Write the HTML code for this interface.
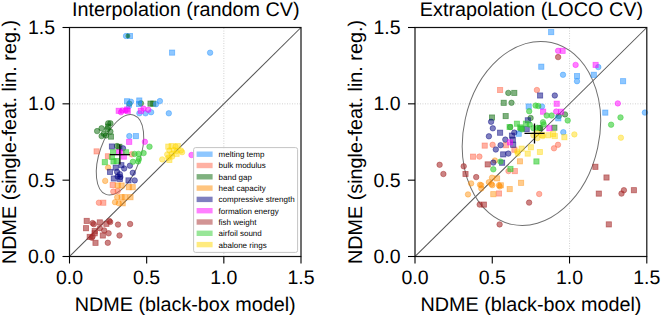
<!DOCTYPE html><html><head><meta charset="utf-8"><style>
html,body{margin:0;padding:0;background:#fff;width:661px;height:316px;overflow:hidden}
svg{display:block}
text{font-family:"Liberation Sans", sans-serif;fill:#000;text-rendering:geometricPrecision}
.t{font-size:19.5px}
.l{font-size:19.8px}
.g{font-size:8px;fill:#000}
</style></head><body><svg width="661" height="316" viewBox="0 0 661 316">
<line x1="223.83333333333334" y1="256.5" x2="223.83333333333334" y2="27.5" stroke="#c0c0c0" stroke-width="0.8" stroke-dasharray="0.9,1.6"/>
<line x1="69.5" y1="103.83333333333334" x2="301.0" y2="103.83333333333334" stroke="#c0c0c0" stroke-width="0.8" stroke-dasharray="0.9,1.6"/>
<line x1="569.5333333333333" y1="256.5" x2="569.5333333333333" y2="27.5" stroke="#c0c0c0" stroke-width="0.8" stroke-dasharray="0.9,1.6"/>
<line x1="415.0" y1="103.83333333333334" x2="646.8" y2="103.83333333333334" stroke="#c0c0c0" stroke-width="0.8" stroke-dasharray="0.9,1.6"/>
<line x1="69.5" y1="256.5" x2="301.0" y2="27.5" stroke="#555" stroke-width="1.05"/>
<line x1="415.0" y1="256.5" x2="646.8" y2="27.5" stroke="#555" stroke-width="1.05"/>
<ellipse cx="120.0" cy="154.8" rx="20.3" ry="42.0" transform="rotate(19.5 120.0 154.8)" fill="none" stroke="#707070" stroke-width="1.0"/>
<ellipse cx="531.45" cy="133.45" rx="67.75" ry="93.05" transform="rotate(12.3 531.45 133.45)" fill="none" stroke="#707070" stroke-width="1.0"/>
<circle cx="129.4" cy="103.7" r="2.75" fill="#006400" fill-opacity="0.5" stroke="#006400" stroke-opacity="0.5" stroke-width="0.8"/>
<circle cx="140.9" cy="103.3" r="2.75" fill="#006400" fill-opacity="0.5" stroke="#006400" stroke-opacity="0.5" stroke-width="0.8"/>
<rect x="147.90" y="101.00" width="5.2" height="5.2" fill="#006400" fill-opacity="0.5" stroke="#006400" stroke-opacity="0.5" stroke-width="0.8"/>
<rect x="150.70" y="101.00" width="5.2" height="5.2" fill="#006400" fill-opacity="0.5" stroke="#006400" stroke-opacity="0.5" stroke-width="0.8"/>
<circle cx="97.1" cy="131.1" r="2.75" fill="#006400" fill-opacity="0.5" stroke="#006400" stroke-opacity="0.5" stroke-width="0.8"/>
<circle cx="101.6" cy="128.3" r="2.75" fill="#006400" fill-opacity="0.5" stroke="#006400" stroke-opacity="0.5" stroke-width="0.8"/>
<circle cx="103.8" cy="133.8" r="2.75" fill="#006400" fill-opacity="0.5" stroke="#006400" stroke-opacity="0.5" stroke-width="0.8"/>
<circle cx="101.6" cy="136.1" r="2.75" fill="#006400" fill-opacity="0.5" stroke="#006400" stroke-opacity="0.5" stroke-width="0.8"/>
<circle cx="107.1" cy="128.9" r="2.75" fill="#006400" fill-opacity="0.5" stroke="#006400" stroke-opacity="0.5" stroke-width="0.8"/>
<circle cx="108.2" cy="123.3" r="2.75" fill="#006400" fill-opacity="0.5" stroke="#006400" stroke-opacity="0.5" stroke-width="0.8"/>
<circle cx="110.4" cy="123.3" r="2.75" fill="#006400" fill-opacity="0.5" stroke="#006400" stroke-opacity="0.5" stroke-width="0.8"/>
<circle cx="110.4" cy="131.6" r="2.75" fill="#006400" fill-opacity="0.5" stroke="#006400" stroke-opacity="0.5" stroke-width="0.8"/>
<rect x="108.40" y="134.00" width="5.2" height="5.2" fill="#006400" fill-opacity="0.5" stroke="#006400" stroke-opacity="0.5" stroke-width="0.8"/>
<circle cx="106.0" cy="135.5" r="2.75" fill="#006400" fill-opacity="0.5" stroke="#006400" stroke-opacity="0.5" stroke-width="0.8"/>
<rect x="105.60" y="124.00" width="5.2" height="5.2" fill="#006400" fill-opacity="0.5" stroke="#006400" stroke-opacity="0.5" stroke-width="0.8"/>
<circle cx="117.0" cy="146.0" r="2.75" fill="#006400" fill-opacity="0.5" stroke="#006400" stroke-opacity="0.5" stroke-width="0.8"/>
<rect x="116.80" y="144.20" width="5.2" height="5.2" fill="#006400" fill-opacity="0.5" stroke="#006400" stroke-opacity="0.5" stroke-width="0.8"/>
<circle cx="126.0" cy="36.0" r="2.75" fill="#1e90ff" fill-opacity="0.5" stroke="#1e90ff" stroke-opacity="0.5" stroke-width="0.8"/>
<rect x="127.40" y="33.40" width="5.2" height="5.2" fill="#1e90ff" fill-opacity="0.5" stroke="#1e90ff" stroke-opacity="0.5" stroke-width="0.8"/>
<rect x="169.50" y="50.00" width="5.2" height="5.2" fill="#1e90ff" fill-opacity="0.5" stroke="#1e90ff" stroke-opacity="0.5" stroke-width="0.8"/>
<circle cx="210.1" cy="52.7" r="2.75" fill="#1e90ff" fill-opacity="0.5" stroke="#1e90ff" stroke-opacity="0.5" stroke-width="0.8"/>
<rect x="124.40" y="98.70" width="5.2" height="5.2" fill="#1e90ff" fill-opacity="0.5" stroke="#1e90ff" stroke-opacity="0.5" stroke-width="0.8"/>
<circle cx="131.0" cy="101.7" r="2.75" fill="#1e90ff" fill-opacity="0.5" stroke="#1e90ff" stroke-opacity="0.5" stroke-width="0.8"/>
<circle cx="129.0" cy="106.0" r="2.75" fill="#1e90ff" fill-opacity="0.5" stroke="#1e90ff" stroke-opacity="0.5" stroke-width="0.8"/>
<rect x="136.70" y="97.90" width="5.2" height="5.2" fill="#1e90ff" fill-opacity="0.5" stroke="#1e90ff" stroke-opacity="0.5" stroke-width="0.8"/>
<rect x="136.40" y="101.40" width="5.2" height="5.2" fill="#1e90ff" fill-opacity="0.5" stroke="#1e90ff" stroke-opacity="0.5" stroke-width="0.8"/>
<circle cx="139.4" cy="113.3" r="2.75" fill="#1e90ff" fill-opacity="0.5" stroke="#1e90ff" stroke-opacity="0.5" stroke-width="0.8"/>
<circle cx="156.0" cy="104.2" r="2.75" fill="#1e90ff" fill-opacity="0.5" stroke="#1e90ff" stroke-opacity="0.5" stroke-width="0.8"/>
<circle cx="159.9" cy="101.1" r="2.75" fill="#1e90ff" fill-opacity="0.5" stroke="#1e90ff" stroke-opacity="0.5" stroke-width="0.8"/>
<circle cx="151.1" cy="112.2" r="2.75" fill="#1e90ff" fill-opacity="0.5" stroke="#1e90ff" stroke-opacity="0.5" stroke-width="0.8"/>
<circle cx="145.5" cy="113.3" r="2.75" fill="#1e90ff" fill-opacity="0.5" stroke="#1e90ff" stroke-opacity="0.5" stroke-width="0.8"/>
<circle cx="168.8" cy="113.3" r="2.75" fill="#1e90ff" fill-opacity="0.5" stroke="#1e90ff" stroke-opacity="0.5" stroke-width="0.8"/>
<circle cx="129.3" cy="136.1" r="2.75" fill="#1e90ff" fill-opacity="0.5" stroke="#1e90ff" stroke-opacity="0.5" stroke-width="0.8"/>
<rect x="133.30" y="133.50" width="5.2" height="5.2" fill="#1e90ff" fill-opacity="0.5" stroke="#1e90ff" stroke-opacity="0.5" stroke-width="0.8"/>
<rect x="94.00" y="148.80" width="5.2" height="5.2" fill="#ff6347" fill-opacity="0.5" stroke="#ff6347" stroke-opacity="0.5" stroke-width="0.8"/>
<circle cx="131.7" cy="154.3" r="2.75" fill="#ff6347" fill-opacity="0.5" stroke="#ff6347" stroke-opacity="0.5" stroke-width="0.8"/>
<rect x="105.30" y="153.70" width="5.2" height="5.2" fill="#ff6347" fill-opacity="0.5" stroke="#ff6347" stroke-opacity="0.5" stroke-width="0.8"/>
<rect x="110.10" y="182.40" width="5.2" height="5.2" fill="#ff6347" fill-opacity="0.5" stroke="#ff6347" stroke-opacity="0.5" stroke-width="0.8"/>
<circle cx="113.3" cy="191.6" r="2.75" fill="#ff6347" fill-opacity="0.5" stroke="#ff6347" stroke-opacity="0.5" stroke-width="0.8"/>
<circle cx="117.7" cy="191.1" r="2.75" fill="#ff6347" fill-opacity="0.5" stroke="#ff6347" stroke-opacity="0.5" stroke-width="0.8"/>
<circle cx="98.9" cy="202.7" r="2.75" fill="#ff6347" fill-opacity="0.5" stroke="#ff6347" stroke-opacity="0.5" stroke-width="0.8"/>
<rect x="100.70" y="200.10" width="5.2" height="5.2" fill="#ff6347" fill-opacity="0.5" stroke="#ff6347" stroke-opacity="0.5" stroke-width="0.8"/>
<circle cx="108.1" cy="167.6" r="2.75" fill="#ff8c00" fill-opacity="0.45" stroke="#ff8c00" stroke-opacity="0.45" stroke-width="0.8"/>
<circle cx="105.2" cy="180.9" r="2.75" fill="#ff8c00" fill-opacity="0.45" stroke="#ff8c00" stroke-opacity="0.45" stroke-width="0.8"/>
<rect x="115.10" y="182.90" width="5.2" height="5.2" fill="#ff8c00" fill-opacity="0.45" stroke="#ff8c00" stroke-opacity="0.45" stroke-width="0.8"/>
<rect x="119.00" y="182.90" width="5.2" height="5.2" fill="#ff8c00" fill-opacity="0.45" stroke="#ff8c00" stroke-opacity="0.45" stroke-width="0.8"/>
<rect x="126.20" y="184.60" width="5.2" height="5.2" fill="#ff8c00" fill-opacity="0.45" stroke="#ff8c00" stroke-opacity="0.45" stroke-width="0.8"/>
<rect x="130.10" y="184.60" width="5.2" height="5.2" fill="#ff8c00" fill-opacity="0.45" stroke="#ff8c00" stroke-opacity="0.45" stroke-width="0.8"/>
<circle cx="117.2" cy="197.2" r="2.75" fill="#ff8c00" fill-opacity="0.45" stroke="#ff8c00" stroke-opacity="0.45" stroke-width="0.8"/>
<rect x="119.00" y="194.60" width="5.2" height="5.2" fill="#ff8c00" fill-opacity="0.45" stroke="#ff8c00" stroke-opacity="0.45" stroke-width="0.8"/>
<rect x="122.30" y="194.60" width="5.2" height="5.2" fill="#ff8c00" fill-opacity="0.45" stroke="#ff8c00" stroke-opacity="0.45" stroke-width="0.8"/>
<rect x="127.90" y="194.60" width="5.2" height="5.2" fill="#ff8c00" fill-opacity="0.45" stroke="#ff8c00" stroke-opacity="0.45" stroke-width="0.8"/>
<circle cx="115.0" cy="202.2" r="2.75" fill="#ff8c00" fill-opacity="0.45" stroke="#ff8c00" stroke-opacity="0.45" stroke-width="0.8"/>
<circle cx="118.8" cy="203.3" r="2.75" fill="#ff8c00" fill-opacity="0.45" stroke="#ff8c00" stroke-opacity="0.45" stroke-width="0.8"/>
<rect x="120.10" y="200.70" width="5.2" height="5.2" fill="#ff8c00" fill-opacity="0.45" stroke="#ff8c00" stroke-opacity="0.45" stroke-width="0.8"/>
<rect x="109.30" y="143.90" width="5.2" height="5.2" fill="#000080" fill-opacity="0.5" stroke="#000080" stroke-opacity="0.5" stroke-width="0.8"/>
<circle cx="123.0" cy="148.3" r="2.75" fill="#000080" fill-opacity="0.5" stroke="#000080" stroke-opacity="0.5" stroke-width="0.8"/>
<rect x="113.10" y="165.00" width="5.2" height="5.2" fill="#000080" fill-opacity="0.5" stroke="#000080" stroke-opacity="0.5" stroke-width="0.8"/>
<rect x="118.80" y="162.60" width="5.2" height="5.2" fill="#000080" fill-opacity="0.5" stroke="#000080" stroke-opacity="0.5" stroke-width="0.8"/>
<circle cx="124.2" cy="168.5" r="2.75" fill="#000080" fill-opacity="0.5" stroke="#000080" stroke-opacity="0.5" stroke-width="0.8"/>
<circle cx="129.9" cy="165.7" r="2.75" fill="#000080" fill-opacity="0.5" stroke="#000080" stroke-opacity="0.5" stroke-width="0.8"/>
<circle cx="132.8" cy="172.8" r="2.75" fill="#000080" fill-opacity="0.5" stroke="#000080" stroke-opacity="0.5" stroke-width="0.8"/>
<rect x="107.40" y="169.30" width="5.2" height="5.2" fill="#000080" fill-opacity="0.5" stroke="#000080" stroke-opacity="0.5" stroke-width="0.8"/>
<circle cx="117.1" cy="171.9" r="2.75" fill="#000080" fill-opacity="0.5" stroke="#000080" stroke-opacity="0.5" stroke-width="0.8"/>
<circle cx="119.9" cy="174.2" r="2.75" fill="#000080" fill-opacity="0.5" stroke="#000080" stroke-opacity="0.5" stroke-width="0.8"/>
<circle cx="117.6" cy="176.6" r="2.75" fill="#000080" fill-opacity="0.5" stroke="#000080" stroke-opacity="0.5" stroke-width="0.8"/>
<circle cx="120.4" cy="177.1" r="2.75" fill="#000080" fill-opacity="0.5" stroke="#000080" stroke-opacity="0.5" stroke-width="0.8"/>
<rect x="111.20" y="175.90" width="5.2" height="5.2" fill="#000080" fill-opacity="0.5" stroke="#000080" stroke-opacity="0.5" stroke-width="0.8"/>
<rect x="117.30" y="176.40" width="5.2" height="5.2" fill="#000080" fill-opacity="0.5" stroke="#000080" stroke-opacity="0.5" stroke-width="0.8"/>
<rect x="125.90" y="177.80" width="5.2" height="5.2" fill="#000080" fill-opacity="0.5" stroke="#000080" stroke-opacity="0.5" stroke-width="0.8"/>
<circle cx="134.7" cy="180.4" r="2.75" fill="#000080" fill-opacity="0.5" stroke="#000080" stroke-opacity="0.5" stroke-width="0.8"/>
<rect x="116.10" y="108.20" width="5.2" height="5.2" fill="#ff00ff" fill-opacity="0.5" stroke="#ff00ff" stroke-opacity="0.5" stroke-width="0.8"/>
<circle cx="122.3" cy="110.4" r="2.75" fill="#ff00ff" fill-opacity="0.5" stroke="#ff00ff" stroke-opacity="0.5" stroke-width="0.8"/>
<circle cx="125.5" cy="110.5" r="2.75" fill="#ff00ff" fill-opacity="0.5" stroke="#ff00ff" stroke-opacity="0.5" stroke-width="0.8"/>
<circle cx="121.0" cy="112.3" r="2.75" fill="#ff00ff" fill-opacity="0.5" stroke="#ff00ff" stroke-opacity="0.5" stroke-width="0.8"/>
<rect x="125.20" y="108.40" width="5.2" height="5.2" fill="#ff00ff" fill-opacity="0.5" stroke="#ff00ff" stroke-opacity="0.5" stroke-width="0.8"/>
<rect x="124.40" y="106.90" width="5.2" height="5.2" fill="#ff00ff" fill-opacity="0.5" stroke="#ff00ff" stroke-opacity="0.5" stroke-width="0.8"/>
<rect x="138.20" y="108.20" width="5.2" height="5.2" fill="#ff00ff" fill-opacity="0.5" stroke="#ff00ff" stroke-opacity="0.5" stroke-width="0.8"/>
<circle cx="143.5" cy="108.6" r="2.75" fill="#ff00ff" fill-opacity="0.5" stroke="#ff00ff" stroke-opacity="0.5" stroke-width="0.8"/>
<circle cx="148.3" cy="109.8" r="2.75" fill="#ff00ff" fill-opacity="0.5" stroke="#ff00ff" stroke-opacity="0.5" stroke-width="0.8"/>
<rect x="126.60" y="139.20" width="5.2" height="5.2" fill="#ff00ff" fill-opacity="0.5" stroke="#ff00ff" stroke-opacity="0.5" stroke-width="0.8"/>
<circle cx="144.9" cy="141.8" r="2.75" fill="#ff00ff" fill-opacity="0.5" stroke="#ff00ff" stroke-opacity="0.5" stroke-width="0.8"/>
<rect x="116.40" y="149.70" width="5.2" height="5.2" fill="#ff00ff" fill-opacity="0.5" stroke="#ff00ff" stroke-opacity="0.5" stroke-width="0.8"/>
<circle cx="121.8" cy="152.7" r="2.75" fill="#ff00ff" fill-opacity="0.5" stroke="#ff00ff" stroke-opacity="0.5" stroke-width="0.8"/>
<rect x="121.20" y="154.00" width="5.2" height="5.2" fill="#ff00ff" fill-opacity="0.5" stroke="#ff00ff" stroke-opacity="0.5" stroke-width="0.8"/>
<circle cx="191.5" cy="155.0" r="2.75" fill="#ff00ff" fill-opacity="0.5" stroke="#ff00ff" stroke-opacity="0.5" stroke-width="0.8"/>
<rect x="84.10" y="218.30" width="5.2" height="5.2" fill="#a52a2a" fill-opacity="0.58" stroke="#a52a2a" stroke-opacity="0.58" stroke-width="0.8"/>
<rect x="83.40" y="225.60" width="5.2" height="5.2" fill="#a52a2a" fill-opacity="0.58" stroke="#a52a2a" stroke-opacity="0.58" stroke-width="0.8"/>
<circle cx="92.6" cy="223.1" r="2.75" fill="#a52a2a" fill-opacity="0.58" stroke="#a52a2a" stroke-opacity="0.58" stroke-width="0.8"/>
<circle cx="93.8" cy="224.2" r="2.75" fill="#a52a2a" fill-opacity="0.58" stroke="#a52a2a" stroke-opacity="0.58" stroke-width="0.8"/>
<rect x="97.20" y="219.80" width="5.2" height="5.2" fill="#a52a2a" fill-opacity="0.58" stroke="#a52a2a" stroke-opacity="0.58" stroke-width="0.8"/>
<circle cx="99.8" cy="228.2" r="2.75" fill="#a52a2a" fill-opacity="0.58" stroke="#a52a2a" stroke-opacity="0.58" stroke-width="0.8"/>
<rect x="92.10" y="228.50" width="5.2" height="5.2" fill="#a52a2a" fill-opacity="0.58" stroke="#a52a2a" stroke-opacity="0.58" stroke-width="0.8"/>
<rect x="92.10" y="230.70" width="5.2" height="5.2" fill="#a52a2a" fill-opacity="0.58" stroke="#a52a2a" stroke-opacity="0.58" stroke-width="0.8"/>
<circle cx="104.2" cy="230.4" r="2.75" fill="#a52a2a" fill-opacity="0.58" stroke="#a52a2a" stroke-opacity="0.58" stroke-width="0.8"/>
<rect x="103.80" y="221.20" width="5.2" height="5.2" fill="#a52a2a" fill-opacity="0.58" stroke="#a52a2a" stroke-opacity="0.58" stroke-width="0.8"/>
<circle cx="109.3" cy="220.9" r="2.75" fill="#a52a2a" fill-opacity="0.58" stroke="#a52a2a" stroke-opacity="0.58" stroke-width="0.8"/>
<circle cx="110.2" cy="222.0" r="2.75" fill="#a52a2a" fill-opacity="0.58" stroke="#a52a2a" stroke-opacity="0.58" stroke-width="0.8"/>
<circle cx="108.6" cy="233.3" r="2.75" fill="#a52a2a" fill-opacity="0.58" stroke="#a52a2a" stroke-opacity="0.58" stroke-width="0.8"/>
<rect x="100.20" y="232.90" width="5.2" height="5.2" fill="#a52a2a" fill-opacity="0.58" stroke="#a52a2a" stroke-opacity="0.58" stroke-width="0.8"/>
<circle cx="91.8" cy="237.7" r="2.75" fill="#a52a2a" fill-opacity="0.58" stroke="#a52a2a" stroke-opacity="0.58" stroke-width="0.8"/>
<circle cx="92.6" cy="236.4" r="2.75" fill="#a52a2a" fill-opacity="0.58" stroke="#a52a2a" stroke-opacity="0.58" stroke-width="0.8"/>
<rect x="87.10" y="234.30" width="5.2" height="5.2" fill="#a52a2a" fill-opacity="0.58" stroke="#a52a2a" stroke-opacity="0.58" stroke-width="0.8"/>
<rect x="92.90" y="240.20" width="5.2" height="5.2" fill="#a52a2a" fill-opacity="0.58" stroke="#a52a2a" stroke-opacity="0.58" stroke-width="0.8"/>
<circle cx="107.8" cy="242.8" r="2.75" fill="#a52a2a" fill-opacity="0.58" stroke="#a52a2a" stroke-opacity="0.58" stroke-width="0.8"/>
<circle cx="118.0" cy="224.6" r="2.75" fill="#a52a2a" fill-opacity="0.58" stroke="#a52a2a" stroke-opacity="0.58" stroke-width="0.8"/>
<circle cx="130.1" cy="224.0" r="2.75" fill="#a52a2a" fill-opacity="0.58" stroke="#a52a2a" stroke-opacity="0.58" stroke-width="0.8"/>
<circle cx="119.5" cy="235.5" r="2.75" fill="#a52a2a" fill-opacity="0.58" stroke="#a52a2a" stroke-opacity="0.58" stroke-width="0.8"/>
<circle cx="149.5" cy="146.7" r="2.75" fill="#32cd32" fill-opacity="0.6" stroke="#32cd32" stroke-opacity="0.6" stroke-width="0.8"/>
<rect x="110.50" y="149.70" width="5.2" height="5.2" fill="#32cd32" fill-opacity="0.6" stroke="#32cd32" stroke-opacity="0.6" stroke-width="0.8"/>
<rect x="123.50" y="149.70" width="5.2" height="5.2" fill="#32cd32" fill-opacity="0.6" stroke="#32cd32" stroke-opacity="0.6" stroke-width="0.8"/>
<circle cx="134.5" cy="153.9" r="2.75" fill="#32cd32" fill-opacity="0.6" stroke="#32cd32" stroke-opacity="0.6" stroke-width="0.8"/>
<circle cx="138.5" cy="153.9" r="2.75" fill="#32cd32" fill-opacity="0.6" stroke="#32cd32" stroke-opacity="0.6" stroke-width="0.8"/>
<circle cx="143.6" cy="153.1" r="2.75" fill="#32cd32" fill-opacity="0.6" stroke="#32cd32" stroke-opacity="0.6" stroke-width="0.8"/>
<rect x="109.30" y="154.40" width="5.2" height="5.2" fill="#32cd32" fill-opacity="0.6" stroke="#32cd32" stroke-opacity="0.6" stroke-width="0.8"/>
<circle cx="138.9" cy="159.0" r="2.75" fill="#32cd32" fill-opacity="0.6" stroke="#32cd32" stroke-opacity="0.6" stroke-width="0.8"/>
<circle cx="132.9" cy="161.8" r="2.75" fill="#32cd32" fill-opacity="0.6" stroke="#32cd32" stroke-opacity="0.6" stroke-width="0.8"/>
<circle cx="138.1" cy="161.4" r="2.75" fill="#32cd32" fill-opacity="0.6" stroke="#32cd32" stroke-opacity="0.6" stroke-width="0.8"/>
<rect x="102.20" y="159.60" width="5.2" height="5.2" fill="#32cd32" fill-opacity="0.6" stroke="#32cd32" stroke-opacity="0.6" stroke-width="0.8"/>
<rect x="110.90" y="158.80" width="5.2" height="5.2" fill="#32cd32" fill-opacity="0.6" stroke="#32cd32" stroke-opacity="0.6" stroke-width="0.8"/>
<rect x="114.00" y="158.40" width="5.2" height="5.2" fill="#32cd32" fill-opacity="0.6" stroke="#32cd32" stroke-opacity="0.6" stroke-width="0.8"/>
<rect x="165.70" y="144.00" width="5.2" height="5.2" fill="#ffd700" fill-opacity="0.45" stroke="#ffd700" stroke-opacity="0.45" stroke-width="0.8"/>
<rect x="169.00" y="143.50" width="5.2" height="5.2" fill="#ffd700" fill-opacity="0.45" stroke="#ffd700" stroke-opacity="0.45" stroke-width="0.8"/>
<circle cx="175.5" cy="146.6" r="2.75" fill="#ffd700" fill-opacity="0.45" stroke="#ffd700" stroke-opacity="0.45" stroke-width="0.8"/>
<rect x="175.10" y="143.50" width="5.2" height="5.2" fill="#ffd700" fill-opacity="0.45" stroke="#ffd700" stroke-opacity="0.45" stroke-width="0.8"/>
<circle cx="169.4" cy="150.5" r="2.75" fill="#ffd700" fill-opacity="0.45" stroke="#ffd700" stroke-opacity="0.45" stroke-width="0.8"/>
<circle cx="173.8" cy="150.0" r="2.75" fill="#ffd700" fill-opacity="0.45" stroke="#ffd700" stroke-opacity="0.45" stroke-width="0.8"/>
<circle cx="181.0" cy="150.5" r="2.75" fill="#ffd700" fill-opacity="0.45" stroke="#ffd700" stroke-opacity="0.45" stroke-width="0.8"/>
<circle cx="182.1" cy="152.2" r="2.75" fill="#ffd700" fill-opacity="0.45" stroke="#ffd700" stroke-opacity="0.45" stroke-width="0.8"/>
<circle cx="167.2" cy="154.4" r="2.75" fill="#ffd700" fill-opacity="0.45" stroke="#ffd700" stroke-opacity="0.45" stroke-width="0.8"/>
<circle cx="171.6" cy="153.8" r="2.75" fill="#ffd700" fill-opacity="0.45" stroke="#ffd700" stroke-opacity="0.45" stroke-width="0.8"/>
<rect x="174.00" y="151.20" width="5.2" height="5.2" fill="#ffd700" fill-opacity="0.45" stroke="#ffd700" stroke-opacity="0.45" stroke-width="0.8"/>
<circle cx="168.3" cy="157.7" r="2.75" fill="#ffd700" fill-opacity="0.45" stroke="#ffd700" stroke-opacity="0.45" stroke-width="0.8"/>
<circle cx="172.2" cy="156.6" r="2.75" fill="#ffd700" fill-opacity="0.45" stroke="#ffd700" stroke-opacity="0.45" stroke-width="0.8"/>
<circle cx="162.2" cy="159.4" r="2.75" fill="#ffd700" fill-opacity="0.45" stroke="#ffd700" stroke-opacity="0.45" stroke-width="0.8"/>
<rect x="166.80" y="157.40" width="5.2" height="5.2" fill="#ffd700" fill-opacity="0.45" stroke="#ffd700" stroke-opacity="0.45" stroke-width="0.8"/>
<circle cx="176.6" cy="151.0" r="2.75" fill="#ffd700" fill-opacity="0.45" stroke="#ffd700" stroke-opacity="0.45" stroke-width="0.8"/>
<circle cx="508.3" cy="92.9" r="2.75" fill="#006400" fill-opacity="0.5" stroke="#006400" stroke-opacity="0.5" stroke-width="0.8"/>
<rect x="511.70" y="90.30" width="5.2" height="5.2" fill="#006400" fill-opacity="0.5" stroke="#006400" stroke-opacity="0.5" stroke-width="0.8"/>
<rect x="501.10" y="100.20" width="5.2" height="5.2" fill="#006400" fill-opacity="0.5" stroke="#006400" stroke-opacity="0.5" stroke-width="0.8"/>
<circle cx="511.5" cy="102.8" r="2.75" fill="#006400" fill-opacity="0.5" stroke="#006400" stroke-opacity="0.5" stroke-width="0.8"/>
<rect x="489.40" y="114.90" width="5.2" height="5.2" fill="#006400" fill-opacity="0.5" stroke="#006400" stroke-opacity="0.5" stroke-width="0.8"/>
<rect x="503.05" y="113.50" width="5.2" height="5.2" fill="#006400" fill-opacity="0.5" stroke="#006400" stroke-opacity="0.5" stroke-width="0.8"/>
<circle cx="510.2" cy="127.1" r="2.75" fill="#006400" fill-opacity="0.5" stroke="#006400" stroke-opacity="0.5" stroke-width="0.8"/>
<circle cx="530.6" cy="118.0" r="2.75" fill="#006400" fill-opacity="0.5" stroke="#006400" stroke-opacity="0.5" stroke-width="0.8"/>
<rect x="537.00" y="125.30" width="5.2" height="5.2" fill="#006400" fill-opacity="0.5" stroke="#006400" stroke-opacity="0.5" stroke-width="0.8"/>
<circle cx="558.8" cy="116.1" r="2.75" fill="#006400" fill-opacity="0.5" stroke="#006400" stroke-opacity="0.5" stroke-width="0.8"/>
<circle cx="565.0" cy="114.4" r="2.75" fill="#006400" fill-opacity="0.5" stroke="#006400" stroke-opacity="0.5" stroke-width="0.8"/>
<circle cx="540.2" cy="128.2" r="2.75" fill="#006400" fill-opacity="0.5" stroke="#006400" stroke-opacity="0.5" stroke-width="0.8"/>
<rect x="551.80" y="125.10" width="5.2" height="5.2" fill="#006400" fill-opacity="0.5" stroke="#006400" stroke-opacity="0.5" stroke-width="0.8"/>
<rect x="518.60" y="126.00" width="5.2" height="5.2" fill="#006400" fill-opacity="0.5" stroke="#006400" stroke-opacity="0.5" stroke-width="0.8"/>
<rect x="548.60" y="29.50" width="5.2" height="5.2" fill="#1e90ff" fill-opacity="0.5" stroke="#1e90ff" stroke-opacity="0.5" stroke-width="0.8"/>
<rect x="538.70" y="64.10" width="5.2" height="5.2" fill="#1e90ff" fill-opacity="0.5" stroke="#1e90ff" stroke-opacity="0.5" stroke-width="0.8"/>
<circle cx="598.3" cy="67.1" r="2.75" fill="#1e90ff" fill-opacity="0.5" stroke="#1e90ff" stroke-opacity="0.5" stroke-width="0.8"/>
<circle cx="563.0" cy="74.8" r="2.75" fill="#1e90ff" fill-opacity="0.5" stroke="#1e90ff" stroke-opacity="0.5" stroke-width="0.8"/>
<rect x="574.40" y="73.50" width="5.2" height="5.2" fill="#1e90ff" fill-opacity="0.5" stroke="#1e90ff" stroke-opacity="0.5" stroke-width="0.8"/>
<circle cx="577.0" cy="81.2" r="2.75" fill="#1e90ff" fill-opacity="0.5" stroke="#1e90ff" stroke-opacity="0.5" stroke-width="0.8"/>
<rect x="591.20" y="72.20" width="5.2" height="5.2" fill="#1e90ff" fill-opacity="0.5" stroke="#1e90ff" stroke-opacity="0.5" stroke-width="0.8"/>
<rect x="620.50" y="78.60" width="5.2" height="5.2" fill="#1e90ff" fill-opacity="0.5" stroke="#1e90ff" stroke-opacity="0.5" stroke-width="0.8"/>
<rect x="526.10" y="103.90" width="5.2" height="5.2" fill="#1e90ff" fill-opacity="0.5" stroke="#1e90ff" stroke-opacity="0.5" stroke-width="0.8"/>
<circle cx="542.0" cy="106.5" r="2.75" fill="#1e90ff" fill-opacity="0.5" stroke="#1e90ff" stroke-opacity="0.5" stroke-width="0.8"/>
<rect x="555.70" y="115.70" width="5.2" height="5.2" fill="#1e90ff" fill-opacity="0.5" stroke="#1e90ff" stroke-opacity="0.5" stroke-width="0.8"/>
<circle cx="563.3" cy="132.2" r="2.75" fill="#1e90ff" fill-opacity="0.5" stroke="#1e90ff" stroke-opacity="0.5" stroke-width="0.8"/>
<rect x="516.10" y="131.10" width="5.2" height="5.2" fill="#1e90ff" fill-opacity="0.5" stroke="#1e90ff" stroke-opacity="0.5" stroke-width="0.8"/>
<rect x="602.70" y="110.00" width="5.2" height="5.2" fill="#1e90ff" fill-opacity="0.5" stroke="#1e90ff" stroke-opacity="0.5" stroke-width="0.8"/>
<circle cx="644.9" cy="112.6" r="2.75" fill="#1e90ff" fill-opacity="0.5" stroke="#1e90ff" stroke-opacity="0.5" stroke-width="0.8"/>
<rect x="497.50" y="87.40" width="5.2" height="5.2" fill="#ff6347" fill-opacity="0.5" stroke="#ff6347" stroke-opacity="0.5" stroke-width="0.8"/>
<circle cx="536.9" cy="90.0" r="2.75" fill="#ff6347" fill-opacity="0.5" stroke="#ff6347" stroke-opacity="0.5" stroke-width="0.8"/>
<circle cx="558.0" cy="144.8" r="2.75" fill="#ff6347" fill-opacity="0.5" stroke="#ff6347" stroke-opacity="0.5" stroke-width="0.8"/>
<circle cx="554.0" cy="148.3" r="2.75" fill="#ff6347" fill-opacity="0.5" stroke="#ff6347" stroke-opacity="0.5" stroke-width="0.8"/>
<rect x="482.10" y="143.00" width="5.2" height="5.2" fill="#ff6347" fill-opacity="0.5" stroke="#ff6347" stroke-opacity="0.5" stroke-width="0.8"/>
<circle cx="492.6" cy="144.8" r="2.75" fill="#ff6347" fill-opacity="0.5" stroke="#ff6347" stroke-opacity="0.5" stroke-width="0.8"/>
<rect x="503.50" y="142.60" width="5.2" height="5.2" fill="#ff6347" fill-opacity="0.5" stroke="#ff6347" stroke-opacity="0.5" stroke-width="0.8"/>
<rect x="470.40" y="154.05" width="5.2" height="5.2" fill="#ff6347" fill-opacity="0.5" stroke="#ff6347" stroke-opacity="0.5" stroke-width="0.8"/>
<circle cx="479.4" cy="156.6" r="2.75" fill="#ff6347" fill-opacity="0.5" stroke="#ff6347" stroke-opacity="0.5" stroke-width="0.8"/>
<rect x="511.80" y="147.10" width="5.2" height="5.2" fill="#ff6347" fill-opacity="0.5" stroke="#ff6347" stroke-opacity="0.5" stroke-width="0.8"/>
<circle cx="508.5" cy="171.1" r="2.75" fill="#ff6347" fill-opacity="0.5" stroke="#ff6347" stroke-opacity="0.5" stroke-width="0.8"/>
<rect x="512.20" y="168.50" width="5.2" height="5.2" fill="#ff6347" fill-opacity="0.5" stroke="#ff6347" stroke-opacity="0.5" stroke-width="0.8"/>
<rect x="496.40" y="190.90" width="5.2" height="5.2" fill="#ff6347" fill-opacity="0.5" stroke="#ff6347" stroke-opacity="0.5" stroke-width="0.8"/>
<circle cx="539.2" cy="194.0" r="2.75" fill="#ff6347" fill-opacity="0.5" stroke="#ff6347" stroke-opacity="0.5" stroke-width="0.8"/>
<circle cx="494.9" cy="160.5" r="2.75" fill="#ff8c00" fill-opacity="0.45" stroke="#ff8c00" stroke-opacity="0.45" stroke-width="0.8"/>
<rect x="517.35" y="158.75" width="5.2" height="5.2" fill="#ff8c00" fill-opacity="0.45" stroke="#ff8c00" stroke-opacity="0.45" stroke-width="0.8"/>
<circle cx="471.1" cy="183.4" r="2.75" fill="#ff8c00" fill-opacity="0.45" stroke="#ff8c00" stroke-opacity="0.45" stroke-width="0.8"/>
<circle cx="480.0" cy="184.7" r="2.75" fill="#ff8c00" fill-opacity="0.45" stroke="#ff8c00" stroke-opacity="0.45" stroke-width="0.8"/>
<circle cx="481.3" cy="188.5" r="2.75" fill="#ff8c00" fill-opacity="0.45" stroke="#ff8c00" stroke-opacity="0.45" stroke-width="0.8"/>
<circle cx="488.9" cy="182.2" r="2.75" fill="#ff8c00" fill-opacity="0.45" stroke="#ff8c00" stroke-opacity="0.45" stroke-width="0.8"/>
<circle cx="468.0" cy="194.4" r="2.75" fill="#ff8c00" fill-opacity="0.45" stroke="#ff8c00" stroke-opacity="0.45" stroke-width="0.8"/>
<circle cx="492.0" cy="177.7" r="2.75" fill="#ff8c00" fill-opacity="0.45" stroke="#ff8c00" stroke-opacity="0.45" stroke-width="0.8"/>
<rect x="494.50" y="175.80" width="5.2" height="5.2" fill="#ff8c00" fill-opacity="0.45" stroke="#ff8c00" stroke-opacity="0.45" stroke-width="0.8"/>
<circle cx="491.4" cy="184.1" r="2.75" fill="#ff8c00" fill-opacity="0.45" stroke="#ff8c00" stroke-opacity="0.45" stroke-width="0.8"/>
<circle cx="492.3" cy="185.2" r="2.75" fill="#ff8c00" fill-opacity="0.45" stroke="#ff8c00" stroke-opacity="0.45" stroke-width="0.8"/>
<circle cx="499.0" cy="185.3" r="2.75" fill="#ff8c00" fill-opacity="0.45" stroke="#ff8c00" stroke-opacity="0.45" stroke-width="0.8"/>
<circle cx="499.8" cy="186.4" r="2.75" fill="#ff8c00" fill-opacity="0.45" stroke="#ff8c00" stroke-opacity="0.45" stroke-width="0.8"/>
<rect x="498.30" y="182.70" width="5.2" height="5.2" fill="#ff8c00" fill-opacity="0.45" stroke="#ff8c00" stroke-opacity="0.45" stroke-width="0.8"/>
<circle cx="481.3" cy="185.3" r="2.75" fill="#ff8c00" fill-opacity="0.45" stroke="#ff8c00" stroke-opacity="0.45" stroke-width="0.8"/>
<rect x="518.50" y="180.20" width="5.2" height="5.2" fill="#ff8c00" fill-opacity="0.45" stroke="#ff8c00" stroke-opacity="0.45" stroke-width="0.8"/>
<rect x="507.10" y="186.50" width="5.2" height="5.2" fill="#ff8c00" fill-opacity="0.45" stroke="#ff8c00" stroke-opacity="0.45" stroke-width="0.8"/>
<rect x="490.70" y="191.60" width="5.2" height="5.2" fill="#ff8c00" fill-opacity="0.45" stroke="#ff8c00" stroke-opacity="0.45" stroke-width="0.8"/>
<rect x="537.50" y="92.90" width="5.2" height="5.2" fill="#000080" fill-opacity="0.5" stroke="#000080" stroke-opacity="0.5" stroke-width="0.8"/>
<circle cx="554.8" cy="95.5" r="2.75" fill="#000080" fill-opacity="0.5" stroke="#000080" stroke-opacity="0.5" stroke-width="0.8"/>
<circle cx="491.1" cy="121.8" r="2.75" fill="#000080" fill-opacity="0.5" stroke="#000080" stroke-opacity="0.5" stroke-width="0.8"/>
<circle cx="492.8" cy="128.3" r="2.75" fill="#000080" fill-opacity="0.5" stroke="#000080" stroke-opacity="0.5" stroke-width="0.8"/>
<rect x="497.50" y="130.10" width="5.2" height="5.2" fill="#000080" fill-opacity="0.5" stroke="#000080" stroke-opacity="0.5" stroke-width="0.8"/>
<circle cx="488.9" cy="136.3" r="2.75" fill="#000080" fill-opacity="0.5" stroke="#000080" stroke-opacity="0.5" stroke-width="0.8"/>
<circle cx="514.3" cy="132.6" r="2.75" fill="#000080" fill-opacity="0.5" stroke="#000080" stroke-opacity="0.5" stroke-width="0.8"/>
<rect x="509.35" y="133.00" width="5.2" height="5.2" fill="#000080" fill-opacity="0.5" stroke="#000080" stroke-opacity="0.5" stroke-width="0.8"/>
<rect x="525.20" y="117.70" width="5.2" height="5.2" fill="#000080" fill-opacity="0.5" stroke="#000080" stroke-opacity="0.5" stroke-width="0.8"/>
<rect x="524.10" y="126.50" width="5.2" height="5.2" fill="#000080" fill-opacity="0.5" stroke="#000080" stroke-opacity="0.5" stroke-width="0.8"/>
<circle cx="505.3" cy="139.6" r="2.75" fill="#000080" fill-opacity="0.5" stroke="#000080" stroke-opacity="0.5" stroke-width="0.8"/>
<rect x="510.20" y="137.00" width="5.2" height="5.2" fill="#000080" fill-opacity="0.5" stroke="#000080" stroke-opacity="0.5" stroke-width="0.8"/>
<rect x="510.60" y="142.20" width="5.2" height="5.2" fill="#000080" fill-opacity="0.5" stroke="#000080" stroke-opacity="0.5" stroke-width="0.8"/>
<circle cx="500.6" cy="145.2" r="2.75" fill="#000080" fill-opacity="0.5" stroke="#000080" stroke-opacity="0.5" stroke-width="0.8"/>
<circle cx="495.8" cy="149.5" r="2.75" fill="#000080" fill-opacity="0.5" stroke="#000080" stroke-opacity="0.5" stroke-width="0.8"/>
<circle cx="493.3" cy="162.6" r="2.75" fill="#000080" fill-opacity="0.5" stroke="#000080" stroke-opacity="0.5" stroke-width="0.8"/>
<rect x="499.50" y="160.10" width="5.2" height="5.2" fill="#000080" fill-opacity="0.5" stroke="#000080" stroke-opacity="0.5" stroke-width="0.8"/>
<circle cx="508.3" cy="153.6" r="2.75" fill="#000080" fill-opacity="0.5" stroke="#000080" stroke-opacity="0.5" stroke-width="0.8"/>
<rect x="500.60" y="151.80" width="5.2" height="5.2" fill="#000080" fill-opacity="0.5" stroke="#000080" stroke-opacity="0.5" stroke-width="0.8"/>
<circle cx="558.1" cy="50.8" r="2.75" fill="#ff00ff" fill-opacity="0.5" stroke="#ff00ff" stroke-opacity="0.5" stroke-width="0.8"/>
<rect x="560.00" y="48.20" width="5.2" height="5.2" fill="#ff00ff" fill-opacity="0.5" stroke="#ff00ff" stroke-opacity="0.5" stroke-width="0.8"/>
<circle cx="575.6" cy="64.9" r="2.75" fill="#ff00ff" fill-opacity="0.5" stroke="#ff00ff" stroke-opacity="0.5" stroke-width="0.8"/>
<rect x="593.00" y="62.30" width="5.2" height="5.2" fill="#ff00ff" fill-opacity="0.5" stroke="#ff00ff" stroke-opacity="0.5" stroke-width="0.8"/>
<rect x="554.10" y="101.10" width="5.2" height="5.2" fill="#ff00ff" fill-opacity="0.5" stroke="#ff00ff" stroke-opacity="0.5" stroke-width="0.8"/>
<rect x="540.55" y="109.05" width="5.2" height="5.2" fill="#ff00ff" fill-opacity="0.5" stroke="#ff00ff" stroke-opacity="0.5" stroke-width="0.8"/>
<circle cx="556.2" cy="111.5" r="2.75" fill="#ff00ff" fill-opacity="0.5" stroke="#ff00ff" stroke-opacity="0.5" stroke-width="0.8"/>
<rect x="558.50" y="109.10" width="5.2" height="5.2" fill="#ff00ff" fill-opacity="0.5" stroke="#ff00ff" stroke-opacity="0.5" stroke-width="0.8"/>
<rect x="546.80" y="125.70" width="5.2" height="5.2" fill="#ff00ff" fill-opacity="0.5" stroke="#ff00ff" stroke-opacity="0.5" stroke-width="0.8"/>
<rect x="507.40" y="139.80" width="5.2" height="5.2" fill="#ff00ff" fill-opacity="0.5" stroke="#ff00ff" stroke-opacity="0.5" stroke-width="0.8"/>
<circle cx="617.8" cy="103.4" r="2.75" fill="#ff00ff" fill-opacity="0.5" stroke="#ff00ff" stroke-opacity="0.5" stroke-width="0.8"/>
<circle cx="558.1" cy="57.1" r="2.75" fill="#a52a2a" fill-opacity="0.58" stroke="#a52a2a" stroke-opacity="0.58" stroke-width="0.8"/>
<rect x="485.10" y="161.80" width="5.2" height="5.2" fill="#a52a2a" fill-opacity="0.58" stroke="#a52a2a" stroke-opacity="0.58" stroke-width="0.8"/>
<circle cx="439.6" cy="164.8" r="2.75" fill="#a52a2a" fill-opacity="0.58" stroke="#a52a2a" stroke-opacity="0.58" stroke-width="0.8"/>
<circle cx="443.4" cy="174.0" r="2.75" fill="#a52a2a" fill-opacity="0.58" stroke="#a52a2a" stroke-opacity="0.58" stroke-width="0.8"/>
<circle cx="463.7" cy="166.3" r="2.75" fill="#a52a2a" fill-opacity="0.58" stroke="#a52a2a" stroke-opacity="0.58" stroke-width="0.8"/>
<rect x="462.90" y="171.40" width="5.2" height="5.2" fill="#a52a2a" fill-opacity="0.58" stroke="#a52a2a" stroke-opacity="0.58" stroke-width="0.8"/>
<circle cx="476.2" cy="177.1" r="2.75" fill="#a52a2a" fill-opacity="0.58" stroke="#a52a2a" stroke-opacity="0.58" stroke-width="0.8"/>
<circle cx="479.7" cy="204.6" r="2.75" fill="#a52a2a" fill-opacity="0.58" stroke="#a52a2a" stroke-opacity="0.58" stroke-width="0.8"/>
<rect x="481.30" y="202.00" width="5.2" height="5.2" fill="#a52a2a" fill-opacity="0.58" stroke="#a52a2a" stroke-opacity="0.58" stroke-width="0.8"/>
<circle cx="499.6" cy="224.4" r="2.75" fill="#a52a2a" fill-opacity="0.58" stroke="#a52a2a" stroke-opacity="0.58" stroke-width="0.8"/>
<rect x="592.80" y="164.20" width="5.2" height="5.2" fill="#a52a2a" fill-opacity="0.58" stroke="#a52a2a" stroke-opacity="0.58" stroke-width="0.8"/>
<rect x="603.90" y="174.90" width="5.2" height="5.2" fill="#a52a2a" fill-opacity="0.58" stroke="#a52a2a" stroke-opacity="0.58" stroke-width="0.8"/>
<rect x="596.20" y="191.00" width="5.2" height="5.2" fill="#a52a2a" fill-opacity="0.58" stroke="#a52a2a" stroke-opacity="0.58" stroke-width="0.8"/>
<circle cx="621.5" cy="193.6" r="2.75" fill="#a52a2a" fill-opacity="0.58" stroke="#a52a2a" stroke-opacity="0.58" stroke-width="0.8"/>
<circle cx="623.9" cy="190.2" r="2.75" fill="#a52a2a" fill-opacity="0.58" stroke="#a52a2a" stroke-opacity="0.58" stroke-width="0.8"/>
<rect x="631.30" y="187.60" width="5.2" height="5.2" fill="#a52a2a" fill-opacity="0.58" stroke="#a52a2a" stroke-opacity="0.58" stroke-width="0.8"/>
<rect x="606.20" y="221.80" width="5.2" height="5.2" fill="#a52a2a" fill-opacity="0.58" stroke="#a52a2a" stroke-opacity="0.58" stroke-width="0.8"/>
<circle cx="529.1" cy="202.6" r="2.75" fill="#a52a2a" fill-opacity="0.58" stroke="#a52a2a" stroke-opacity="0.58" stroke-width="0.8"/>
<circle cx="535.6" cy="105.6" r="2.75" fill="#32cd32" fill-opacity="0.6" stroke="#32cd32" stroke-opacity="0.6" stroke-width="0.8"/>
<circle cx="538.3" cy="106.0" r="2.75" fill="#32cd32" fill-opacity="0.6" stroke="#32cd32" stroke-opacity="0.6" stroke-width="0.8"/>
<circle cx="529.2" cy="111.2" r="2.75" fill="#32cd32" fill-opacity="0.6" stroke="#32cd32" stroke-opacity="0.6" stroke-width="0.8"/>
<rect x="507.00" y="124.40" width="5.2" height="5.2" fill="#32cd32" fill-opacity="0.6" stroke="#32cd32" stroke-opacity="0.6" stroke-width="0.8"/>
<rect x="514.30" y="121.10" width="5.2" height="5.2" fill="#32cd32" fill-opacity="0.6" stroke="#32cd32" stroke-opacity="0.6" stroke-width="0.8"/>
<rect x="523.30" y="121.10" width="5.2" height="5.2" fill="#32cd32" fill-opacity="0.6" stroke="#32cd32" stroke-opacity="0.6" stroke-width="0.8"/>
<circle cx="529.7" cy="124.6" r="2.75" fill="#32cd32" fill-opacity="0.6" stroke="#32cd32" stroke-opacity="0.6" stroke-width="0.8"/>
<rect x="517.60" y="124.80" width="5.2" height="5.2" fill="#32cd32" fill-opacity="0.6" stroke="#32cd32" stroke-opacity="0.6" stroke-width="0.8"/>
<circle cx="522.1" cy="129.3" r="2.75" fill="#32cd32" fill-opacity="0.6" stroke="#32cd32" stroke-opacity="0.6" stroke-width="0.8"/>
<circle cx="537.3" cy="127.9" r="2.75" fill="#32cd32" fill-opacity="0.6" stroke="#32cd32" stroke-opacity="0.6" stroke-width="0.8"/>
<circle cx="543.0" cy="122.2" r="2.75" fill="#32cd32" fill-opacity="0.6" stroke="#32cd32" stroke-opacity="0.6" stroke-width="0.8"/>
<circle cx="546.7" cy="115.5" r="2.75" fill="#32cd32" fill-opacity="0.6" stroke="#32cd32" stroke-opacity="0.6" stroke-width="0.8"/>
<circle cx="551.6" cy="115.5" r="2.75" fill="#32cd32" fill-opacity="0.6" stroke="#32cd32" stroke-opacity="0.6" stroke-width="0.8"/>
<circle cx="567.7" cy="120.5" r="2.75" fill="#32cd32" fill-opacity="0.6" stroke="#32cd32" stroke-opacity="0.6" stroke-width="0.8"/>
<circle cx="543.6" cy="124.4" r="2.75" fill="#32cd32" fill-opacity="0.6" stroke="#32cd32" stroke-opacity="0.6" stroke-width="0.8"/>
<circle cx="533.4" cy="128.2" r="2.75" fill="#32cd32" fill-opacity="0.6" stroke="#32cd32" stroke-opacity="0.6" stroke-width="0.8"/>
<circle cx="500.5" cy="161.6" r="2.75" fill="#32cd32" fill-opacity="0.6" stroke="#32cd32" stroke-opacity="0.6" stroke-width="0.8"/>
<circle cx="493.3" cy="169.3" r="2.75" fill="#32cd32" fill-opacity="0.6" stroke="#32cd32" stroke-opacity="0.6" stroke-width="0.8"/>
<rect x="507.85" y="166.30" width="5.2" height="5.2" fill="#32cd32" fill-opacity="0.6" stroke="#32cd32" stroke-opacity="0.6" stroke-width="0.8"/>
<rect x="533.85" y="158.85" width="5.2" height="5.2" fill="#32cd32" fill-opacity="0.6" stroke="#32cd32" stroke-opacity="0.6" stroke-width="0.8"/>
<circle cx="620.5" cy="117.4" r="2.75" fill="#32cd32" fill-opacity="0.6" stroke="#32cd32" stroke-opacity="0.6" stroke-width="0.8"/>
<circle cx="611.1" cy="124.7" r="2.75" fill="#32cd32" fill-opacity="0.6" stroke="#32cd32" stroke-opacity="0.6" stroke-width="0.8"/>
<circle cx="533.4" cy="135.3" r="2.75" fill="#ffd700" fill-opacity="0.45" stroke="#ffd700" stroke-opacity="0.45" stroke-width="0.8"/>
<circle cx="537.4" cy="133.3" r="2.75" fill="#ffd700" fill-opacity="0.45" stroke="#ffd700" stroke-opacity="0.45" stroke-width="0.8"/>
<circle cx="542.9" cy="136.1" r="2.75" fill="#ffd700" fill-opacity="0.45" stroke="#ffd700" stroke-opacity="0.45" stroke-width="0.8"/>
<rect x="545.90" y="132.70" width="5.2" height="5.2" fill="#ffd700" fill-opacity="0.45" stroke="#ffd700" stroke-opacity="0.45" stroke-width="0.8"/>
<rect x="550.60" y="131.50" width="5.2" height="5.2" fill="#ffd700" fill-opacity="0.45" stroke="#ffd700" stroke-opacity="0.45" stroke-width="0.8"/>
<rect x="552.20" y="133.50" width="5.2" height="5.2" fill="#ffd700" fill-opacity="0.45" stroke="#ffd700" stroke-opacity="0.45" stroke-width="0.8"/>
<circle cx="537.5" cy="138.1" r="2.75" fill="#ffd700" fill-opacity="0.45" stroke="#ffd700" stroke-opacity="0.45" stroke-width="0.8"/>
<rect x="539.60" y="132.30" width="5.2" height="5.2" fill="#ffd700" fill-opacity="0.45" stroke="#ffd700" stroke-opacity="0.45" stroke-width="0.8"/>
<rect x="561.80" y="134.60" width="5.2" height="5.2" fill="#ffd700" fill-opacity="0.45" stroke="#ffd700" stroke-opacity="0.45" stroke-width="0.8"/>
<circle cx="574.4" cy="134.4" r="2.75" fill="#ffd700" fill-opacity="0.45" stroke="#ffd700" stroke-opacity="0.45" stroke-width="0.8"/>
<circle cx="517.2" cy="151.4" r="2.75" fill="#ffd700" fill-opacity="0.45" stroke="#ffd700" stroke-opacity="0.45" stroke-width="0.8"/>
<circle cx="517.7" cy="153.6" r="2.75" fill="#ffd700" fill-opacity="0.45" stroke="#ffd700" stroke-opacity="0.45" stroke-width="0.8"/>
<rect x="519.00" y="146.00" width="5.2" height="5.2" fill="#ffd700" fill-opacity="0.45" stroke="#ffd700" stroke-opacity="0.45" stroke-width="0.8"/>
<rect x="528.20" y="144.70" width="5.2" height="5.2" fill="#ffd700" fill-opacity="0.45" stroke="#ffd700" stroke-opacity="0.45" stroke-width="0.8"/>
<rect x="525.10" y="151.00" width="5.2" height="5.2" fill="#ffd700" fill-opacity="0.45" stroke="#ffd700" stroke-opacity="0.45" stroke-width="0.8"/>
<rect x="537.30" y="149.40" width="5.2" height="5.2" fill="#ffd700" fill-opacity="0.45" stroke="#ffd700" stroke-opacity="0.45" stroke-width="0.8"/>
<circle cx="620.9" cy="137.7" r="2.75" fill="#ffd700" fill-opacity="0.45" stroke="#ffd700" stroke-opacity="0.45" stroke-width="0.8"/>
<circle cx="127.9" cy="36" r="2.4" fill="#006400" fill-opacity="0.55"/>
<path d="M109.9 154.6H129.9M119.9 144.6V164.6" stroke="#000" stroke-width="1.3" fill="none"/>
<path d="M524.5 133.4H544.5M534.5 123.4V143.4" stroke="#000" stroke-width="1.3" fill="none"/>
<rect x="193.6" y="147.6" width="104" height="104.8" rx="2" fill="#fff" fill-opacity="0.8" stroke="#c4c4c4" stroke-width="1"/>
<rect x="196.6" y="151.5" width="16" height="5.4" fill="#1e90ff" fill-opacity="0.5"/>
<text class="g" x="218.6" y="157.1">melting temp</text>
<rect x="196.6" y="162.8" width="16" height="5.4" fill="#ff6347" fill-opacity="0.5"/>
<text class="g" x="218.6" y="168.4">bulk modulus</text>
<rect x="196.6" y="174.1" width="16" height="5.4" fill="#006400" fill-opacity="0.5"/>
<text class="g" x="218.6" y="179.7">band gap</text>
<rect x="196.6" y="185.4" width="16" height="5.4" fill="#ff8c00" fill-opacity="0.5"/>
<text class="g" x="218.6" y="191.0">heat capacity</text>
<rect x="196.6" y="196.7" width="16" height="5.4" fill="#000080" fill-opacity="0.5"/>
<text class="g" x="218.6" y="202.3">compressive strength</text>
<rect x="196.6" y="208.0" width="16" height="5.4" fill="#ff00ff" fill-opacity="0.5"/>
<text class="g" x="218.6" y="213.6">formation energy</text>
<rect x="196.6" y="219.3" width="16" height="5.4" fill="#a52a2a" fill-opacity="0.5"/>
<text class="g" x="218.6" y="224.9">fish weight</text>
<rect x="196.6" y="230.6" width="16" height="5.4" fill="#32cd32" fill-opacity="0.5"/>
<text class="g" x="218.6" y="236.2">airfoil sound</text>
<rect x="196.6" y="241.9" width="16" height="5.4" fill="#ffd700" fill-opacity="0.5"/>
<text class="g" x="218.6" y="247.5">abalone rings</text>
<rect x="69.5" y="27.5" width="231.5" height="229.0" fill="none" stroke="#111" stroke-width="1.2"/>
<line x1="69.5" y1="256.5" x2="69.5" y2="263.5" stroke="#000" stroke-width="1.1"/>
<line x1="62.5" y1="256.5" x2="69.5" y2="256.5" stroke="#000" stroke-width="1.1"/>
<text class="t" x="69.5" y="284.0" text-anchor="middle">0.0</text>
<text class="t" x="55.0" y="263.0" text-anchor="end">0.0</text>
<line x1="146.66666666666669" y1="256.5" x2="146.66666666666669" y2="263.5" stroke="#000" stroke-width="1.1"/>
<line x1="62.5" y1="180.16666666666669" x2="69.5" y2="180.16666666666669" stroke="#000" stroke-width="1.1"/>
<text class="t" x="146.66666666666669" y="284.0" text-anchor="middle">0.5</text>
<text class="t" x="55.0" y="186.66666666666669" text-anchor="end">0.5</text>
<line x1="223.83333333333334" y1="256.5" x2="223.83333333333334" y2="263.5" stroke="#000" stroke-width="1.1"/>
<line x1="62.5" y1="103.83333333333334" x2="69.5" y2="103.83333333333334" stroke="#000" stroke-width="1.1"/>
<text class="t" x="223.83333333333334" y="284.0" text-anchor="middle">1.0</text>
<text class="t" x="55.0" y="110.33333333333334" text-anchor="end">1.0</text>
<line x1="301.0" y1="256.5" x2="301.0" y2="263.5" stroke="#000" stroke-width="1.1"/>
<line x1="62.5" y1="27.5" x2="69.5" y2="27.5" stroke="#000" stroke-width="1.1"/>
<text class="t" x="301.0" y="284.0" text-anchor="middle">1.5</text>
<text class="t" x="55.0" y="34.0" text-anchor="end">1.5</text>
<text class="l" x="185.75" y="16" text-anchor="middle">Interpolation (random CV)</text>
<text class="l" x="185.25" y="310.5" text-anchor="middle">NDME (black-box model)</text>
<text class="l" transform="translate(16.200000000000003,142.0) rotate(-90)" text-anchor="middle">NDME (single-feat. lin. reg.)</text>
<rect x="415.0" y="27.5" width="231.79999999999995" height="229.0" fill="none" stroke="#111" stroke-width="1.2"/>
<line x1="415.0" y1="256.5" x2="415.0" y2="263.5" stroke="#000" stroke-width="1.1"/>
<line x1="408.0" y1="256.5" x2="415.0" y2="256.5" stroke="#000" stroke-width="1.1"/>
<text class="t" x="415.0" y="284.0" text-anchor="middle">0.0</text>
<text class="t" x="400.5" y="263.0" text-anchor="end">0.0</text>
<line x1="492.26666666666665" y1="256.5" x2="492.26666666666665" y2="263.5" stroke="#000" stroke-width="1.1"/>
<line x1="408.0" y1="180.16666666666669" x2="415.0" y2="180.16666666666669" stroke="#000" stroke-width="1.1"/>
<text class="t" x="492.26666666666665" y="284.0" text-anchor="middle">0.5</text>
<text class="t" x="400.5" y="186.66666666666669" text-anchor="end">0.5</text>
<line x1="569.5333333333333" y1="256.5" x2="569.5333333333333" y2="263.5" stroke="#000" stroke-width="1.1"/>
<line x1="408.0" y1="103.83333333333334" x2="415.0" y2="103.83333333333334" stroke="#000" stroke-width="1.1"/>
<text class="t" x="569.5333333333333" y="284.0" text-anchor="middle">1.0</text>
<text class="t" x="400.5" y="110.33333333333334" text-anchor="end">1.0</text>
<line x1="646.8" y1="256.5" x2="646.8" y2="263.5" stroke="#000" stroke-width="1.1"/>
<line x1="408.0" y1="27.5" x2="415.0" y2="27.5" stroke="#000" stroke-width="1.1"/>
<text class="t" x="646.8" y="284.0" text-anchor="middle">1.5</text>
<text class="t" x="400.5" y="34.0" text-anchor="end">1.5</text>
<text class="l" x="531.4" y="16" text-anchor="middle">Extrapolation (LOCO CV)</text>
<text class="l" x="530.9" y="310.5" text-anchor="middle">NDME (black-box model)</text>
<text class="l" transform="translate(361.7,142.0) rotate(-90)" text-anchor="middle">NDME (single-feat. lin. reg.)</text>
</svg></body></html>
